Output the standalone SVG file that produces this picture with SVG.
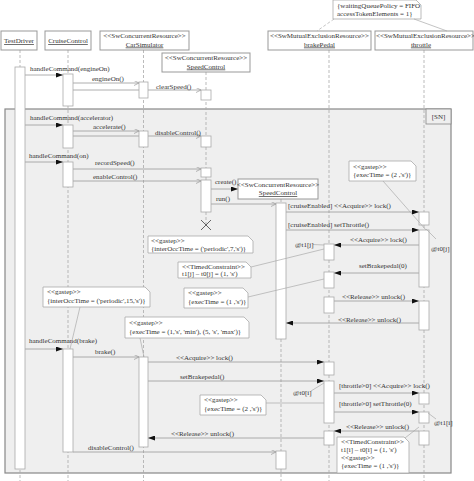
<svg xmlns="http://www.w3.org/2000/svg" width="474" height="481" viewBox="0 0 474 481">
<style>
text{font-family:"Liberation Serif","Times New Roman",serif;font-size:7px;fill:#333}
.c{text-anchor:middle}
.u{text-decoration:underline}
.hd{fill:#fff;stroke:#999;stroke-width:1}
.ll{stroke:#aaa;stroke-width:0.8;stroke-dasharray:3,2;fill:none}
.bar{fill:#fff;stroke:#aaa;stroke-width:0.8}
.m{stroke:#999;stroke-width:0.8;fill:none}
.mf{marker-end:url(#af)}
.mo{marker-end:url(#ao)}
.note{fill:#fff;stroke:#aaa;stroke-width:0.8}
.nl{stroke:#aaa;stroke-width:0.7;fill:none}
</style>
<defs>
<marker id="af" markerWidth="7" markerHeight="5" refX="7" refY="2.5" orient="auto" markerUnits="userSpaceOnUse"><path d="M0,0 L7,2.5 L0,5 z" fill="#111"/></marker>
<marker id="ao" markerWidth="5" markerHeight="5" refX="5" refY="2.5" orient="auto" markerUnits="userSpaceOnUse"><path d="M0,0 L5,2.5 L0,5" fill="none" stroke="#999" stroke-width="0.7"/></marker>
</defs>

<g id="frame">
<rect x="5" y="109" width="446" height="364" fill="#efefef" stroke="#888" stroke-width="1.2"/>
<rect x="426" y="109" width="25" height="15" fill="#efefef" stroke="#888" stroke-width="0.8"/>
<text x="438.5" y="119" class="c">[SN]</text>
</g>

<g id="lifelines">
<line class="ll" x1="20" y1="50" x2="20" y2="481"/>
<line class="ll" x1="68" y1="50" x2="68" y2="481"/>
<line class="ll" x1="143.5" y1="50" x2="143.5" y2="481"/>
<line class="ll" x1="206" y1="72" x2="206" y2="225"/>
<line class="ll" x1="281" y1="199" x2="281" y2="481"/>
<line class="ll" x1="329" y1="50" x2="329" y2="481"/>
<line class="ll" x1="424" y1="50" x2="424" y2="481"/>
</g>

<g id="connectors">
<line class="m mf" x1="25" y1="75" x2="63" y2="75"/>
<line class="m mo" x1="73" y1="83" x2="139" y2="83"/>
<line class="m mo" x1="73" y1="90" x2="201" y2="90"/>
<line class="m mf" x1="25" y1="125" x2="63" y2="125"/>
<line class="m mo" x1="73" y1="131" x2="139" y2="131"/>
<line class="m mo" x1="73" y1="136" x2="201" y2="136"/>
<line class="m mf" x1="25" y1="162" x2="63" y2="162"/>
<line class="m mo" x1="73" y1="169" x2="201" y2="169"/>
<line class="m mo" x1="73" y1="181" x2="201" y2="181"/>
<line class="m mf" x1="211" y1="189" x2="238" y2="189"/>
<line class="m mo" x1="211" y1="204" x2="276" y2="204"/>
<line class="m mf" x1="286" y1="212" x2="419" y2="212"/>
<line class="m mf" x1="286" y1="230" x2="419" y2="230"/>
<line class="m mf" x1="419" y1="245" x2="334" y2="245"/>
<line class="m mf" x1="419" y1="273" x2="334" y2="273"/>
<line class="m mf" x1="334" y1="301" x2="419" y2="301"/>
<line class="m mf" x1="419" y1="323" x2="286" y2="323"/>
<line class="m mf" x1="25" y1="349" x2="63" y2="349"/>
<line class="m mo" x1="73" y1="357" x2="139" y2="357"/>
<line class="m mf" x1="148" y1="362" x2="324" y2="362"/>
<line class="m mf" x1="148" y1="381" x2="324" y2="381"/>
<line class="m mf" x1="334" y1="393" x2="419" y2="393"/>
<line class="m mf" x1="334" y1="412" x2="419" y2="412"/>
<line class="m mf" x1="419" y1="431" x2="334" y2="431"/>
<line class="m mf" x1="324" y1="438" x2="148" y2="438"/>
<line class="m mo" x1="73" y1="452" x2="276" y2="452"/>
<text x="30" y="71">handleCommand(engineOn)</text>
<text x="92" y="81">engineOn()</text>
<text x="156" y="88.5">clearSpeed()</text>
<text x="30" y="120">handleCommand(accelerator)</text>
<text x="93" y="129">accelerate()</text>
<text x="155" y="134.5">disableControl()</text>
<text x="29" y="157.5">handleCommand(on)</text>
<text x="95" y="165">recordSpeed()</text>
<text x="93" y="178.5">enableControl()</text>
<text x="215" y="184">create()</text>
<text x="216" y="201">run()</text>
<text x="288" y="208">[cruiseEnabled] &lt;&lt;Acquire&gt;&gt; lock()</text>
<text x="288" y="227">[cruiseEnabled] setThrottle()</text>
<text x="350" y="242">&lt;&lt;Acquire&gt;&gt; lock()</text>
<text x="359" y="268">setBrakepedal(0)</text>
<text x="342" y="298.5">&lt;&lt;Release&gt;&gt; unlock()</text>
<text x="338" y="321.5">&lt;&lt;Release&gt;&gt; unlock()</text>
<text x="29" y="342.5">handleCommand(brake)</text>
<text x="95" y="354">brake()</text>
<text x="176" y="359.5">&lt;&lt;Acquire&gt;&gt; lock()</text>
<text x="180" y="379">setBrakepedal()</text>
<text x="339" y="388">[throttle&gt;0] &lt;&lt;Acquire&gt;&gt; lock()</text>
<text x="339" y="406">[throttle&gt;0] setThrottle(0)</text>
<text x="346" y="429">&lt;&lt;Release&gt;&gt; unlock()</text>
<text x="171" y="436">&lt;&lt;Release&gt;&gt; unlock()</text>
<text x="88" y="449.5">disableControl()</text>
</g>

<g id="TestDriver">
<rect class="hd" x="1" y="31" width="36" height="19"/>
<text x="19" y="43" class="c u">TestDriver</text>
<rect class="bar" x="15" y="67" width="10" height="402"/>
</g>

<g id="CruiseControl">
<rect class="hd" x="45" y="31" width="46" height="19"/>
<text x="68" y="43" class="c u">CruiseControl</text>
<rect class="bar" x="63" y="74" width="10" height="32"/>
<rect class="bar" x="63" y="125" width="10" height="23"/>
<rect class="bar" x="63" y="162" width="10" height="25"/>
<rect class="bar" x="63" y="349" width="10" height="103"/>
</g>

<g id="CarSimulator">
<rect class="hd" x="100" y="31" width="89" height="19"/>
<text x="144.5" y="38" class="c">&lt;&lt;SwConcurrentResource&gt;&gt;</text>
<text x="144.5" y="46.5" class="c u">CarSimulator</text>
<rect class="bar" x="139" y="82" width="9" height="16"/>
<rect class="bar" x="139" y="131" width="9" height="16"/>
<rect class="bar" x="139" y="357" width="9" height="90"/>
</g>

<g id="SpeedControl">
<rect class="hd" x="162" y="53" width="88" height="19"/>
<text x="206" y="60" class="c">&lt;&lt;SwConcurrentResource&gt;&gt;</text>
<text x="206" y="68.5" class="c u">SpeedControl</text>
<rect class="bar" x="201" y="90" width="10" height="10"/>
<rect class="bar" x="201" y="136" width="10" height="11"/>
<rect class="bar" x="201" y="168" width="10" height="9"/>
<rect class="bar" x="201" y="180" width="10" height="32"/>
<path d="M201,220 L211,230 M211,220 L201,230" stroke="#555" stroke-width="0.9"/>
</g>

<g id="SpeedControl2">
<rect class="hd" x="238" y="179" width="80" height="20"/>
<text x="278" y="186.5" class="c">&lt;&lt;SwConcurrentResource&gt;&gt;</text>
<text x="278" y="195" class="c u">SpeedControl</text>
<rect class="bar" x="276" y="203" width="10" height="136"/>
<rect class="bar" x="276" y="451" width="10" height="18"/>
</g>

<g id="brakePedal">
<rect class="hd" x="268" y="31" width="103" height="19"/>
<text x="319.5" y="38" class="c">&lt;&lt;SwMutualExclusionResource&gt;&gt;</text>
<text x="319.5" y="46.5" class="c u">brakePedal</text>
<rect class="bar" x="324" y="244" width="10" height="16"/>
<rect class="bar" x="324" y="272" width="10" height="16"/>
<rect class="bar" x="324" y="297" width="10" height="16"/>
<rect class="bar" x="324" y="362" width="10" height="13"/>
<rect class="bar" x="324" y="381" width="10" height="42"/>
<rect class="bar" x="324" y="431" width="10" height="14"/>
</g>

<g id="throttle">
<rect class="hd" x="375" y="31" width="98" height="19"/>
<text x="425.5" y="38" class="c">&lt;&lt;SwMutualExclusionResource&gt;&gt;</text>
<text x="421" y="46.5" class="c u">throttle</text>
<rect class="bar" x="419" y="212" width="10" height="13"/>
<rect class="bar" x="419" y="230" width="10" height="57"/>
<rect class="bar" x="419" y="301" width="10" height="29"/>
<rect class="bar" x="419" y="393" width="10" height="11"/>
<rect class="bar" x="419" y="412" width="10" height="11"/>
<rect class="bar" x="419" y="431" width="10" height="14"/>
</g>

<g id="timeMarks">
<line class="nl" x1="426" y1="229" x2="436" y2="239"/>
<text x="431" y="251">@t0[j]</text>
<line class="nl" x1="313" y1="244.5" x2="324" y2="245"/>
<text x="295" y="246.5">@t1[j]</text>
<line class="nl" x1="311" y1="391" x2="324" y2="383"/>
<text x="293" y="394.5">@t0[i]</text>
<line class="nl" x1="428" y1="413" x2="436" y2="419"/>
<text x="434" y="424.5">@t1[i]</text>
</g>

<g id="note1">
<path class="note" d="M333,0 H416 L421,5 V19 H333 Z"/>
<line class="nl" x1="334" y1="19" x2="317" y2="31" stroke-dasharray="3,2"/>
<line class="nl" x1="414" y1="19" x2="447" y2="31"/>
<text x="337" y="8">{waitingQueuePolicy = FIFO</text>
<text x="337" y="16">accessTokenElements = 1}</text>
</g>

<g id="note2">
<path class="note" d="M349,161 H411 L416,166 V181 H349 Z"/>
<line class="nl" x1="383" y1="181" x2="426" y2="230"/>
<text x="353" y="168.5">&lt;&lt;gastep&gt;&gt;</text>
<text x="353" y="177">{execTime = (2 ,'s')}</text>
</g>

<g id="note3">
<path class="note" d="M148,236 H248 L253,241 V253 H148 Z"/>
<text x="151" y="242.5">&lt;&lt;gastep&gt;&gt;</text>
<text x="151" y="250.5">{interOccTime = ('periodic',7,'s')}</text>
</g>

<g id="note4">
<path class="note" d="M178,262 H246 L251,267 V278 H178 Z"/>
<line class="nl" x1="251" y1="267" x2="324" y2="249"/>
<text x="182" y="268.5">&lt;&lt;TimedConstraint&gt;&gt;</text>
<text x="182" y="276">t1[j] – t0[j] = (1, 's')</text>
</g>

<g id="note5">
<path class="note" d="M184,288 H243 L248,293 V308 H184 Z"/>
<line class="nl" x1="248" y1="297" x2="324" y2="279"/>
<text x="188" y="295">&lt;&lt;gastep&gt;&gt;</text>
<text x="188" y="304">{execTime = (1 ,'s')}</text>
</g>

<g id="note6">
<path class="note" d="M125,317 H244 L249,322 V338 H125 Z"/>
<line class="nl" x1="140" y1="338" x2="144" y2="357"/>
<text x="129" y="324.5">&lt;&lt;gastep&gt;&gt;</text>
<text x="129" y="334">{execTime = (1,'s', 'min'), (5, 's', 'max')}</text>
</g>

<g id="note7">
<path class="note" d="M43,287 H145 L150,292 V307 H43 Z"/>
<line class="nl" x1="80" y1="307" x2="70" y2="349"/>
<text x="47" y="294">&lt;&lt;gastep&gt;&gt;</text>
<text x="47" y="303">{interOccTime = ('periodic',15,'s')}</text>
</g>

<g id="note8">
<path class="note" d="M200,395 H261 L266,400 V415 H200 Z"/>
<line class="nl" x1="266" y1="403" x2="324" y2="403"/>
<text x="204" y="402">&lt;&lt;gastep&gt;&gt;</text>
<text x="204" y="411">{execTime = (2 ,'s')}</text>
</g>

<g id="note9">
<path class="note" d="M337,437 H404 L409,442 V473 H337 Z"/>
<line class="nl" x1="405" y1="438" x2="419" y2="427"/>
<text x="341" y="444">&lt;&lt;TimedConstraint&gt;&gt;</text>
<text x="341" y="452">t1[i] – t0[i] = (1, 's')</text>
<text x="341" y="460">&lt;&lt;gastep&gt;&gt;</text>
<text x="341" y="468">{execTime = (1 ,'s')}</text>
</g>
</svg>
